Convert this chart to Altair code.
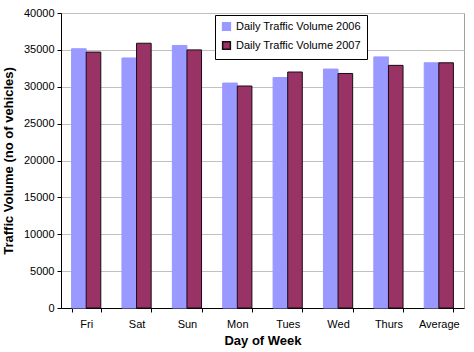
import altair as alt
import pandas as pd

days = ["Fri", "Sat", "Sun", "Mon", "Tues", "Wed", "Thurs", "Average"]
vol_2006 = [35150, 33900, 35600, 30500, 31250, 32400, 34050, 33250]
vol_2007 = [34700, 35900, 35000, 30100, 32000, 31800, 32900, 33250]
series = ["Daily Traffic Volume 2006", "Daily Traffic Volume 2007"]

rows = []
for d, a, b in zip(days, vol_2006, vol_2007):
    rows.append({"day": d, "series": series[0], "value": a})
    rows.append({"day": d, "series": series[1], "value": b})
df = pd.DataFrame(rows)

font = "Liberation Sans"

chart = alt.Chart(df).mark_bar(strokeWidth=1).encode(
    x=alt.X("day:N", sort=days, title="Day of Week",
            scale=alt.Scale(paddingInner=0.42, paddingOuter=0.21),
            axis=alt.Axis(labelAngle=0, tickBand="extent", grid=False,
                          domainColor="black", tickColor="black", tickSize=4,
                          labelFontSize=11, labelColor="black", labelPadding=6,
                          titleFontSize=13, titleFontWeight="bold", titlePadding=5)),
    xOffset=alt.XOffset("series:N", sort=series),
    y=alt.Y("value:Q", title="Traffic Volume (no of vehicles)",
            scale=alt.Scale(domain=[0, 40000], nice=False),
            axis=alt.Axis(values=list(range(0, 40001, 5000)), format="d",
                          gridColor="#c0c0c0",
                          domainColor="black", tickColor="black", tickSize=4,
                          labelFontSize=11, labelColor="black", labelPadding=3,
                          titleFontSize=13, titleFontWeight="bold", titlePadding=8)),
    color=alt.Color("series:N", sort=series,
                    scale=alt.Scale(domain=series, range=["#9999FF", "#993366"]),
                    legend=alt.Legend(title=None, orient="none", legendX=154, legendY=2,
                                      strokeColor="black", fillColor="white",
                                      padding=6, symbolType="square", symbolSize=60,
                                      labelFontSize=11, labelColor="black",
                                      rowPadding=4, labelFont=font)),
    stroke=alt.Stroke("series:N", sort=series,
                      scale=alt.Scale(domain=series, range=["#9999FF", "#1a0a14"]),
                      legend=None),
).properties(
    width=403, height=295,
    autosize=alt.AutoSizeParams(type="none"),
    padding={"left": 61, "top": 13, "right": 10, "bottom": 44},
).configure(
    font=font,
).configure_view(
    stroke="#a0a0a0",
)

chart.save("out.html", embed_options={"renderer": "svg", "actions": False})
